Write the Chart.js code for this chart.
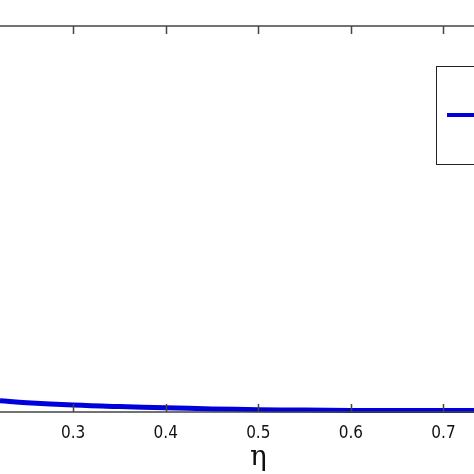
<!DOCTYPE html><html><head><style>html,body{margin:0;padding:0;background:#fff;overflow:hidden}#w{position:absolute;left:0;top:0;width:474px;height:474px}</style>
<script src="https://cdn.jsdelivr.net/npm/chart.js@4.4.0/dist/chart.umd.min.js"></script></head><body><div id="w"><canvas id="c"></canvas></div>
<script>
const etaValues=[0.221,0.25,0.3,0.35,0.4,0.45,0.5,0.55,0.6,0.65,0.7,0.733];
const fValues=[0.029,0.024,0.018,0.014,0.011,0.008,0.006,0.005,0.004,0.004,0.004,0.004];
const xTicks=[0.3,0.4,0.5,0.6,0.7];
const xTitle='η';
const tickLen=8;
const frame={id:'frame',afterDraw(ch){const c=ch.ctx,a=ch.chartArea,x=ch.scales.x;c.save();c.strokeStyle='#444';c.lineWidth=1.5;
c.beginPath();c.moveTo(0,a.top);c.lineTo(474,a.top);c.moveTo(0,a.bottom);c.lineTo(474,a.bottom);
xTicks.forEach(t=>{const p=Math.round(x.getPixelForValue(t))+0.5;c.moveTo(p,a.top);c.lineTo(p,a.top+tickLen);c.moveTo(p,a.bottom);c.lineTo(p,a.bottom-tickLen);});c.stroke();
c.fillStyle='#fff';c.fillRect(436,66,40,99);c.strokeStyle='#222';c.lineWidth=1;c.strokeRect(436.5,66.5,60,98);
c.strokeStyle='#0000dd';c.lineWidth=4;c.beginPath();c.moveTo(447,115);c.lineTo(474,115);c.stroke();
c.fillStyle='#111';c.font='28px "DejaVu Serif"';c.textAlign='center';c.textBaseline='alphabetic';c.fillText(xTitle,x.getPixelForValue(0.5),465);c.restore();}};
new Chart(document.getElementById('c'),{type:'line',data:{datasets:[{data:etaValues.map((e,i)=>({x:e,y:fValues[i]})),borderColor:'#0000dd',borderWidth:5,pointRadius:0,tension:0.4,clip:false}]},
options:{responsive:true,maintainAspectRatio:false,animation:false,layout:{padding:{top:26,left:0,right:0,bottom:0}},
plugins:{legend:{display:false},tooltip:{enabled:false}},
scales:{y:{display:false,min:0,max:1},
x:{type:'linear',min:0.221,max:0.733,afterBuildTicks(s){s.ticks=xTicks.map(v=>({value:v}));},afterFit(s){s.height=62;},
grid:{display:false,drawTicks:false},border:{display:false},
ticks:{padding:11,color:'#111',font:{family:'"DejaVu Sans Condensed","Liberation Sans"',size:17},callback:v=>v.toFixed(1)},
title:{display:false}}}},plugins:[frame]});
</script></body></html>
